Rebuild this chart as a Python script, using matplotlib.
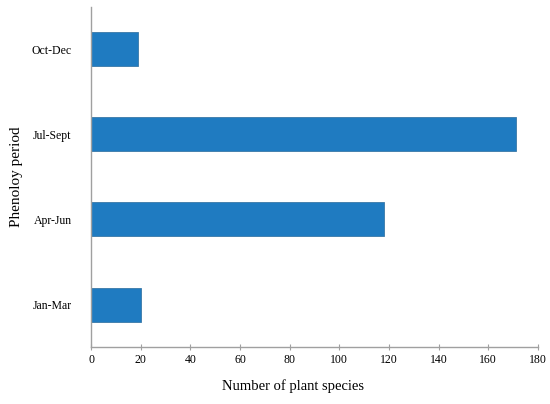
import matplotlib.pyplot as plt

# phenology periods and species counts
periods = ['Jan-Mar', 'Apr-Jun', 'Jul-Sept', 'Oct-Dec']
species = [20, 118, 171, 19]
xticks = [0, 20, 40, 60, 80, 100, 120, 140, 160, 180]

plt.rcParams['font.family'] = ['Liberation Serif', 'DejaVu Serif']

fig = plt.figure(figsize=(5.5, 4.04), dpi=100)
ax = fig.add_axes([0.1655, 0.141, 0.8125, 0.842])

ax.barh(periods, species, height=0.4, color='#1f7bc1', edgecolor='#3a78a8', linewidth=0.6)

ax.set_xlim(0, 180)
ax.set_ylim(-0.5, 3.5)
ax.set_xticks(xticks)
ax.tick_params(axis='x', labelsize=8.5, length=4, width=0.8, color='#a0a0a0', direction='inout', pad=3)
ax.tick_params(axis='y', labelsize=8.5, length=0, pad=14)

for s in ['top', 'right']:
    ax.spines[s].set_visible(False)
for s in ['left', 'bottom']:
    ax.spines[s].set_color('#a0a0a0')
    ax.spines[s].set_linewidth(1.0)

ax.set_xlabel('Number of plant species', fontsize=10.5)
ax.xaxis.set_label_coords(0.452, -0.095)
ax.set_ylabel('Phenoloy period', fontsize=11, labelpad=6)

fig.savefig('out.png', dpi=100)
